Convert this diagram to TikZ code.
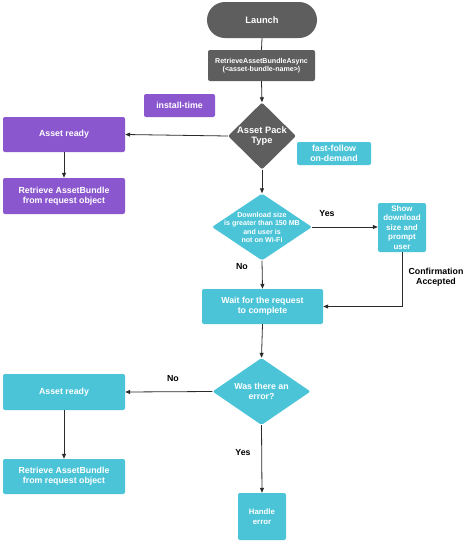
\documentclass[tikz,border=0pt]{standalone}
\usepackage{fontspec}
\setmainfont{Liberation Sans}
\usetikzlibrary{shapes.geometric,arrows.meta}
\definecolor{dgray}{HTML}{5E5E5E}
\definecolor{purp}{HTML}{8B57CF}
\definecolor{cyanb}{HTML}{4CC4D8}
\definecolor{linec}{HTML}{2B2B2B}
\begin{document}
\begin{tikzpicture}[x=1pt,y=-1pt,
  box/.style={rectangle, rounded corners=2pt, inner sep=0pt, text=white, align=center, font=\bfseries\fontsize{8.8}{10.3}\selectfont},
  pbox/.style={box, fill=purp},
  cbox/.style={box, fill=cyanb},
  gbox/.style={box, fill=dgray},
  dia/.style={diamond, inner sep=0pt, rounded corners=2pt},
  dtext/.style={text=white, align=center, inner sep=0pt, font=\bfseries\fontsize{8.8}{10.3}\selectfont},
  lbl/.style={text=black, align=center, inner sep=0pt, font=\bfseries\fontsize{8.8}{10.3}\selectfont},
  conn/.style={draw=linec, line width=0.8pt},
  arr/.style={conn, -{Triangle[length=5pt,width=4pt]}}
]
\useasboundingbox[fill=white] (0,0) rectangle (474,544);

% top
\node[gbox, rounded corners=18pt, minimum width=110, minimum height=36, font=\bfseries\fontsize{9.3}{11}\selectfont] (launch) at (262,20) {Launch};
\node[gbox, minimum width=107, minimum height=31, font=\bfseries\fontsize{7.1}{8.6}\selectfont] (rab) at (261.5,65.5) {RetrieveAssetBundleAsync\\(<asset-bundle-name>)};
\node[dia, fill=dgray, minimum width=68, minimum height=67] (apt) at (262,136) {};
\node[dtext, font=\bfseries\fontsize{9.3}{10.8}\selectfont] (apttxt) at (262,136) {Asset Pack\\Type};

\node[pbox, minimum width=71, minimum height=23] (inst) at (179.5,105.5) {install-time};
\node[cbox, minimum width=74, minimum height=23, font=\bfseries\fontsize{8.8}{9.6}\selectfont] (ff) at (334,153.5) {fast-follow\\on-demand};

% purple branch
\node[pbox, minimum width=122, minimum height=35] (ar1) at (64,134.5) {Asset ready};
\node[pbox, minimum width=122, minimum height=36] (rb1) at (64,196) {Retrieve AssetBundle\\from request object};

% download decision
\node[dia, fill=cyanb, minimum width=100, minimum height=67] (dl) at (262,227) {};
\node[dtext, font=\bfseries\fontsize{7.1}{8.2}\selectfont] (dltxt) at (262,227.5) {Download size\\is greater than 150 MB\\and user is\\not on Wi-Fi};
\node[cbox, minimum width=48, minimum height=49, font=\bfseries\fontsize{8}{9.6}\selectfont] (show) at (402,227.5) {Show\\download\\size and\\prompt\\user};

\node[cbox, minimum width=121, minimum height=35] (wait) at (262.5,306.5) {Wait for the request\\to complete};

\node[dia, fill=cyanb, minimum width=98, minimum height=67] (err) at (261.5,391.5) {};
\node[dtext] (errtxt) at (261.5,391.5) {Was there an\\error?};

\node[cbox, minimum width=122, minimum height=36] (ar2) at (64,392) {Asset ready};
\node[cbox, minimum width=122, minimum height=35] (rb2) at (64,476.5) {Retrieve AssetBundle\\from request object};
\node[cbox, minimum width=48, minimum height=47, font=\bfseries\fontsize{7.8}{9.8}\selectfont] (handle) at (262,516.5) {Handle\\error};

% labels
\node[lbl] (yes1) at (327,214) {Yes};
\node[lbl] (no1) at (242,267) {No};
\node[lbl] (conf) at (436,277.5) {Confirmation\\Accepted};
\node[lbl] (no2) at (173,379) {No};
\node[lbl] (yes2) at (243,453) {Yes};

% connectors
\draw[conn] (launch.south) -- (rab.north);
\draw[arr] (rab.south) -- (apt.north);
\draw[arr] (apt.west) -- (ar1.east);
\draw[arr] (ar1.south) -- (rb1.north);
\draw[arr] (apt.south) -- (dl.north);
\draw[arr] (dl.east) -- (show.west |- dl.east);
\draw[arr] (dl.south) -- (wait.north);
\coordinate (cturn) at (show.south |- wait.east);
\draw[arr] (show.south) -- (cturn) -- (wait.east);
\draw[arr] (wait.south) -- (err.north);
\draw[arr] (err.west) -- (ar2.east);
\draw[arr] (ar2.south) -- (rb2.north);
\draw[arr] (err.south) -- (handle.north);
\end{tikzpicture}
\end{document}
